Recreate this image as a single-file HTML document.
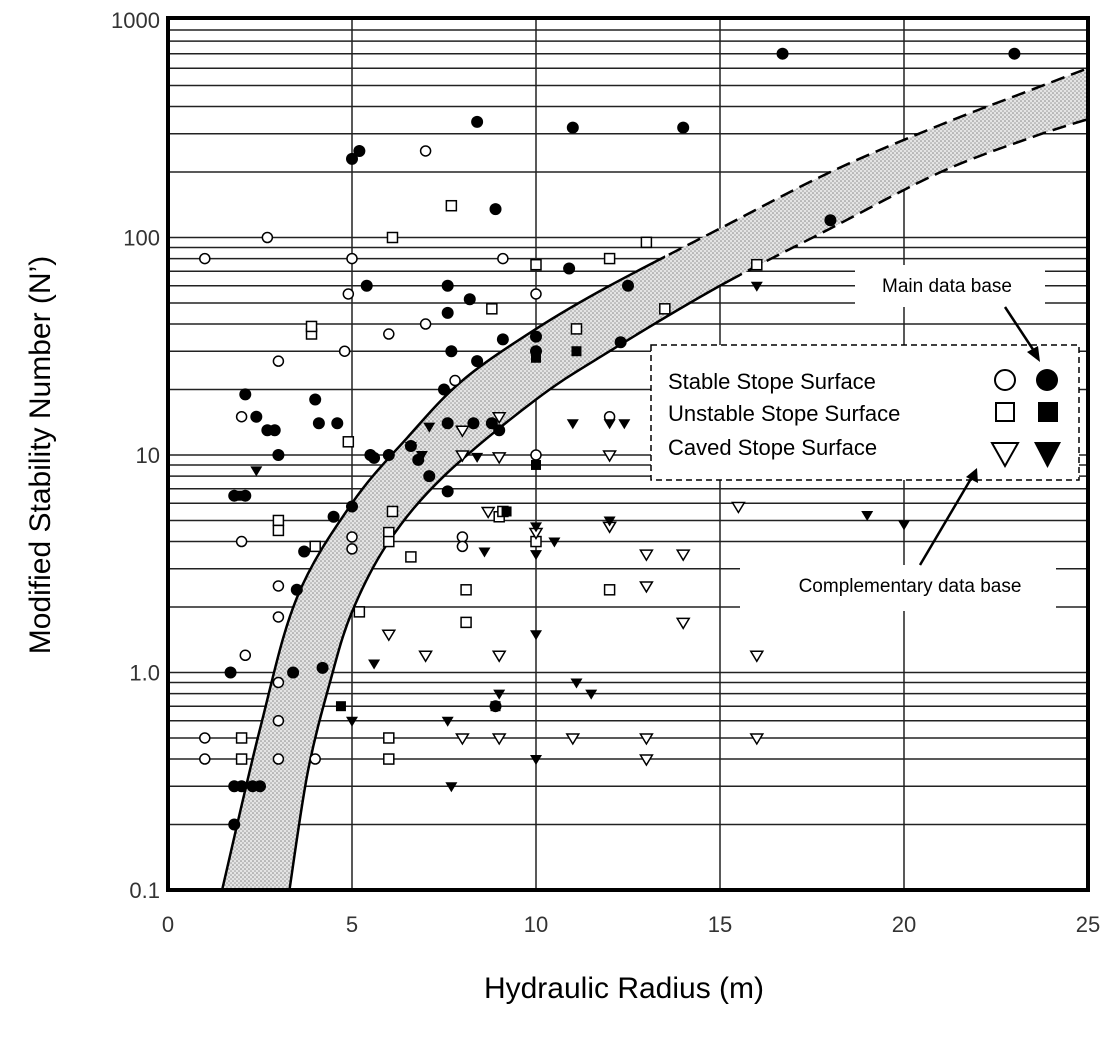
<!DOCTYPE html>
<html><head><meta charset="utf-8"><style>
body{margin:0;background:#fff}
svg{display:block;font-family:"Liberation Sans",sans-serif}
</style></head><body>
<svg id="chart" width="1108" height="1041" viewBox="0 0 1108 1041">
<defs>
<pattern id="dots" width="4" height="4" patternUnits="userSpaceOnUse"><rect width="4" height="4" fill="#e4e4e4"/><circle cx="1" cy="1" r="0.8" fill="#888"/><circle cx="3" cy="3" r="0.8" fill="#999"/></pattern>
<clipPath id="cu1"><rect x="0" y="0" width="665" height="1041"/></clipPath>
<clipPath id="cu2"><rect x="665" y="0" width="500" height="1041"/></clipPath>
<clipPath id="cl1"><rect x="0" y="0" width="740" height="1041"/></clipPath>
<clipPath id="cl2"><rect x="740" y="0" width="500" height="1041"/></clipPath>
</defs>
<g id="grid"></g>
<g id="band"></g>
<g id="marks"></g>
<rect x="168" y="18" width="920" height="872" fill="none" stroke="#000" stroke-width="4"/>
<g id="ticks" font-size="22" fill="#333"></g>
<text x="624" y="998" font-size="30" text-anchor="middle">Hydraulic Radius (m)</text>
<text transform="translate(50,455) rotate(-90)" font-size="30" text-anchor="middle">Modified Stability Number (N’)</text>
<g>
<rect x="651" y="345" width="428" height="135" fill="#fff" stroke="#000" stroke-width="1.5" stroke-dasharray="6,4"/>
<text x="668" y="389" font-size="22">Stable Stope Surface</text>
<text x="668" y="421" font-size="22">Unstable Stope Surface</text>
<text x="668" y="455" font-size="22">Caved Stope Surface</text>
<circle cx="1005" cy="380" r="10" fill="#fff" stroke="#000" stroke-width="2"/>
<circle cx="1047" cy="380" r="11" fill="#000"/>
<rect x="996" y="403" width="18" height="18" fill="#fff" stroke="#000" stroke-width="2"/>
<rect x="1038" y="402" width="20" height="20" fill="#000"/>
<polygon points="992,443 1018,443 1005,466" fill="#fff" stroke="#000" stroke-width="2"/>
<polygon points="1034,442 1061,442 1047.5,468" fill="#000"/>
</g>
<rect x="855" y="265" width="190" height="42" fill="#fff"/>
<text x="947" y="292" font-size="19" text-anchor="middle">Main data base</text>
<line x1="1005" y1="307" x2="1036" y2="354" stroke="#000" stroke-width="2.5"/>
<polygon points="1040,362 1027,352 1038,346" fill="#000"/>
<rect x="740" y="565" width="316" height="46" fill="#fff"/>
<text x="910" y="592" font-size="19" text-anchor="middle">Complementary data base</text>
<line x1="920" y1="565" x2="972" y2="477" stroke="#000" stroke-width="2.5"/>
<polygon points="977,468 978,483 966,477" fill="#000"/>
</svg>
<script>
const xTicks=[0,5,10,15,20,25];
const yTickLabels=["0.1","1.0","10","100","1000"];
const upperX=[1.47,2.5,3.5,5,6.5,8,10,12,15,18,21,23.5,25];
const upperN=[0.1,0.55,2.2,6,12,22,38,60,110,200,330,480,600];
const lowerX=[3.3,3.8,4.4,5,6,7.5,10,12,15,18,21,23.5,25];
const lowerN=[0.1,0.35,0.9,1.9,4,8,18,30,60,110,200,290,350];
const stableX=[1,2.7,7,1,1,2,2,2.1,3,3,3,3,3,3,4,5,4.9,4.8,5,5,6,7,7.8,8,8,9.1,10,10,12];
const stableN=[80,100,250,0.5,0.4,15,4,1.2,27,2.5,1.8,0.9,0.6,0.4,0.4,80,55,30,4.2,3.7,36,40,22,4.2,3.8,80,55,10,15];
const stableFX=[5,5.2,8.4,11,14,16.7,23,18,8.9,5.4,7.6,8.2,9.1,10.9,12.3,12.5,2.1,2.4,2.7,2.9,3,4,4.1,4.6,1.8,2.1,4.5,5,5.5,5.6,6,6.6,6.8,7.1,7.6,7.5,7.6,7.7,7.6,8.4,8.3,8.8,9,10,10,3.7,3.5,3.4,4.2,1.7,1.8,2,2.3,2.5,1.8,8.9];
const stableFN=[230,250,340,320,320,700,700,120,135,60,60,52,34,72,33,60,19,15,13,13,10,18,14,14,6.5,6.5,5.2,5.8,10,9.7,10,11,9.5,8,6.8,20,14,30,45,27,14,14,13,30,35,3.6,2.4,1.0,1.05,1.0,0.3,0.3,0.3,0.3,0.2,0.7];
const unstX=[7.7,6.1,4.9,3.9,3.9,3,3,4,6,6,6.1,6.6,5.2,8.1,8.1,8.8,10,11.1,12,13,13.5,16,9,9.1,10,12,2,2,6,6];
const unstN=[140,100,11.5,36,39,5,4.5,3.8,4.4,4,5.5,3.4,1.9,2.4,1.7,47,75,38,80,95,47,75,5.2,5.5,4,2.4,0.5,0.4,0.5,0.4];
const unstFX=[4.7,8.9,9.2,10,10,11.1,2];
const unstFN=[0.7,0.7,5.5,9,28,30,6.5];
const cavedX=[8,9,9,8,6,7,8,9,9,11,13,13,12,12,13,13,14,15.5,16,16,14,8.7,10];
const cavedN=[13,15,9.8,10,1.5,1.2,0.5,1.2,0.5,0.5,0.5,0.4,4.7,10,2.5,3.5,3.5,5.8,1.2,0.5,1.7,5.5,4.4];
const cavedFX=[2.4,6.9,6.6,8.4,8.6,10,10,10.5,11,12,12.4,7.1,5.6,5,7.6,7.7,9,10,10,11.1,11.5,12,16,19,20];
const cavedFN=[8.5,10,11,9.8,3.6,4.7,3.5,4,14,14,14,13.5,1.1,0.6,0.6,0.3,0.8,0.4,1.5,0.9,0.8,5,60,5.3,4.8];

const sx=v=>168+v*36.8;
const sy=n=>890-(Math.log10(n)+1)*217.5;
const NS="http://www.w3.org/2000/svg";
function mk(tag,attrs,parent){const e=document.createElementNS(NS,tag);for(const k in attrs)e.setAttribute(k,attrs[k]);parent.appendChild(e);return e;}
const grid=document.getElementById('grid');
for(let d=-1;d<3;d++)for(let m=1;m<10;m++){
  const y=sy(m*Math.pow(10,d));
  const l=mk('line',{x1:168,x2:1088,y1:y,y2:y,stroke:'#222','stroke-width':1.5},grid);
  
  
}
xTicks.slice(1,-1).forEach(v=>{
  const l=mk('line',{x1:sx(v),x2:sx(v),y1:18,y2:890,stroke:'#222','stroke-width':1.5},grid);
  
  
});
const ticks=document.getElementById('ticks');
xTicks.forEach(v=>{
  const t=mk('text',{x:sx(v),y:932,'text-anchor':'middle'},ticks);t.textContent=v;
  
  
});
yTickLabels.forEach(s=>{
  const t=mk('text',{x:160,y:sy(parseFloat(s))+8,'text-anchor':'end'},ticks);t.textContent=s;
  
  
});
function pathOf(xs,ns){const pts=xs.map((x,i)=>[sx(x),sy(ns[i])]);
  let d='M'+pts[0].join(',');
  for(let i=1;i<pts.length;i++){const p0=pts[Math.max(0,i-2)],p1=pts[i-1],p2=pts[i],p3=pts[Math.min(pts.length-1,i+1)];
    const c1=[p1[0]+(p2[0]-p0[0])/6,p1[1]+(p2[1]-p0[1])/6],c2=[p2[0]-(p3[0]-p1[0])/6,p2[1]-(p3[1]-p1[1])/6];
    d+=' C'+c1.join(',')+' '+c2.join(',')+' '+p2.join(',');}
  return {d,pts};}
const band=document.getElementById('band');
const U=pathOf(upperX,upperN),L=pathOf(lowerX,lowerN);
const Lr=pathOf([...lowerX].reverse(),[...lowerN].reverse());
const fill=mk('path',{d:U.d+' L'+Lr.pts[0].join(',')+Lr.d.replace(/^M[^ ]+/,'')+' Z',fill:'url(#dots)',stroke:'none'},band);


const up=mk('path',{d:U.d,fill:'none',stroke:'#000','stroke-width':2.5,'clip-path':'url(#cu1)'},band);


const upd=mk('path',{d:U.d,fill:'none',stroke:'#000','stroke-width':2.5,'stroke-dasharray':'14,7','clip-path':'url(#cu2)'},band);


const lo=mk('path',{d:L.d,fill:'none',stroke:'#000','stroke-width':2.5,'clip-path':'url(#cl1)'},band);


const lod=mk('path',{d:L.d,fill:'none',stroke:'#000','stroke-width':2.5,'stroke-dasharray':'14,7','clip-path':'url(#cl2)'},band);


const marks=document.getElementById('marks');
function plot(xs,ns,type,filled,name){
  xs.forEach((x,i)=>{const cx=sx(x),cy=sy(ns[i]);let e;
    const st=filled?{fill:'#000'}:{fill:'#fff',stroke:'#000','stroke-width':1.5};
    if(type==='c')e=mk('circle',Object.assign({cx,cy,r:filled?6:5},st),marks);
    else if(type==='s')e=mk('rect',Object.assign({x:cx-5,y:cy-5,width:10,height:10},st),marks);
    else e=mk('polygon',Object.assign({points:`${cx-6},${cy-4} ${cx+6},${cy-4} ${cx},${cy+6}`},st),marks);
    
    
  });}
plot(stableX,stableN,'c',false,'stable-complementary-point');
plot(stableFX,stableFN,'c',true,'stable-main-point');
plot(unstX,unstN,'s',false,'unstable-complementary-point');
plot(unstFX,unstFN,'s',true,'unstable-main-point');
plot(cavedX,cavedN,'t',false,'caved-complementary-point');
plot(cavedFX,cavedFN,'t',true,'caved-main-point');
</script>
</body></html>
